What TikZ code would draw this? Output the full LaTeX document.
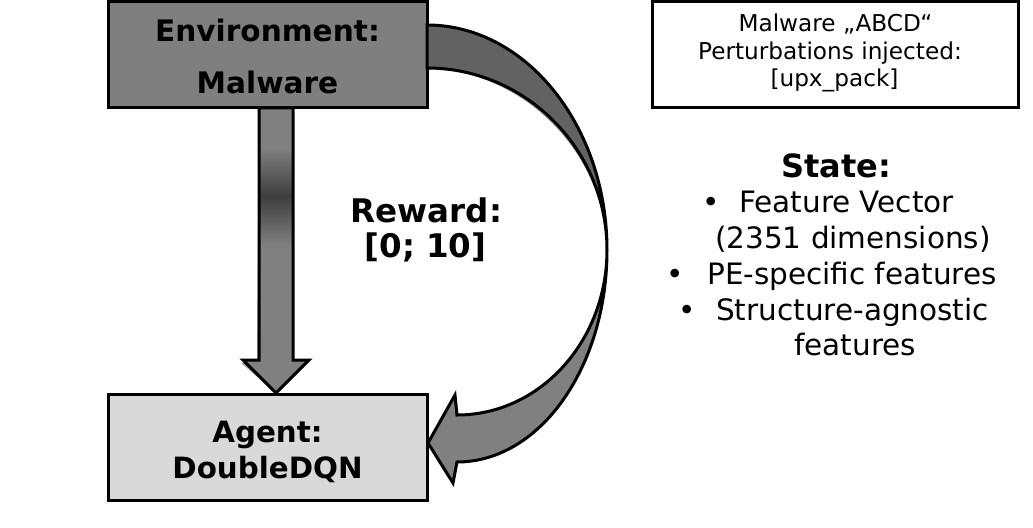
\documentclass[tikz,border=0pt]{standalone}
\usepackage{fontspec}
\setmainfont{DejaVu Sans}
\definecolor{mg}{HTML}{808080}
\definecolor{dg}{HTML}{3E3E3E}
\definecolor{envgray}{HTML}{7F7F7F}
\definecolor{agentgray}{HTML}{D9D9D9}
\definecolor{curvetop}{HTML}{626262}
\definecolor{curvebot}{HTML}{808080}
\definecolor{shadowgray}{HTML}{A0A0A0}
\pgfdeclareverticalshading{downshade}{100bp}{color(0bp)=(mg); color(51bp)=(mg); color(59.5bp)=(dg); color(68bp)=(mg); color(74bp)=(mg); color(100bp)=(mg)}
\begin{document}
\begin{tikzpicture}[x=0.75pt,y=-0.75pt,
  box/.style={draw=black, line width=2.25pt, inner sep=0pt, minimum width=239.25pt, minimum height=79.5pt},
  outl/.style={draw=black, line width=2.25pt, line join=miter},
  bigb/.style={font=\bfseries\fontsize{22.2}{26}\selectfont, inner sep=0pt, anchor=base},
  hugeb/.style={font=\bfseries\fontsize{24.4}{28}\selectfont, inner sep=0pt, anchor=base},
  small/.style={font=\fontsize{17.4}{20}\selectfont, inner sep=0pt, anchor=base},
  item/.style={font=\fontsize{22.1}{26}\selectfont, inner sep=0pt, anchor=base west},
  bul/.style={font=\fontsize{22.1}{26}\selectfont, inner sep=0pt, anchor=base}]
\useasboundingbox (0,0) rectangle (1033,528);

% named coordinates for the arrows
\coordinate (dl) at (259,108);
\coordinate (dr) at (293,108);
\coordinate (dtip) at (276,393);
\coordinate (ca) at (427,25);
\coordinate (cb) at (427,68);
\coordinate (cp) at (607,250);
\coordinate (cc) at (457,415);
\coordinate (cd) at (457,462);
\coordinate (ch1) at (455,395);
\coordinate (ctip) at (428,443);
\coordinate (ch2) at (453,483);

% shadows
\begin{scope}[shift={(-2,3)}]
  \fill[shadowgray] (dl) -- (259,360) -- (243,360) -- (dtip) -- (309,360) -- (293,360) -- (dr) -- cycle;
  \fill[shadowgray] (ca) .. controls (526,25) and (607,126) .. (cp) .. controls (607,150) and (526,68) .. (cb) -- cycle;
  \fill[shadowgray] (cp) .. controls (607,341) and (540,415) .. (cc) -- (ch1) -- (ctip) -- (ch2) -- (cd) .. controls (540,462) and (607,367) .. (cp) -- cycle;
\end{scope}

% boxes
\node[box, fill=envgray] (env) at (267.5,55) {};
\node[box, fill=agentgray] (agent) at (267.5,447) {};
\node[box, fill=white, minimum width=274.5pt] (info) at (835,55) {};

% down arrow: environment -> agent
\path[shading=downshade] (dl) -- (259,360) -- (243,360) -- (dtip) -- (309,360) -- (293,360) -- (dr) -- cycle;
\draw[outl] (dl) -- (259,360) -- (243,360) -- (dtip) -- (309,360) -- (293,360) -- (dr) -- cycle;

% curved reward arrow
\fill[curvetop] (ca) .. controls (526,25) and (607,126) .. (cp) .. controls (607,150) and (526,68) .. (cb) -- cycle;
\fill[curvebot] (cp) .. controls (607,341) and (540,415) .. (cc) -- (ch1) -- (ctip) -- (ch2) -- (cd) .. controls (540,462) and (607,367) .. (cp) -- cycle;
\draw[outl] (ca) .. controls (526,25) and (607,126) .. (cp) .. controls (607,150) and (526,68) .. (cb) -- cycle;
\draw[outl] (cp) .. controls (607,341) and (540,415) .. (cc) -- (ch1) -- (ctip) -- (ch2) -- (cd) .. controls (540,462) and (607,367) .. (cp) -- cycle;

% box texts
\node[bigb] (env1) at (267.5,42) {Environment:};
\node[bigb] (env2) at (267.5,94) {Malware};
\node[bigb, font=\bfseries\fontsize{22}{26}\selectfont] (ag1) at (267.5,442) {Agent:};
\node[bigb, font=\bfseries\fontsize{22}{26}\selectfont] (ag2) at (267.5,478) {DoubleDQN};

% reward
\node[hugeb] (rw1) at (426.5,223) {Reward:};
\node[hugeb] (rw2) at (425.5,257) {[0; 10]};

% info box
\node[small] (tb1) at (835.5,32) {Malware „ABCD“};
\node[small] (tb2) at (830,59.5) {Perturbations injected:};
\node[small] (tb3) at (834.5,87) {[upx\_pack]};

% state
\node[hugeb, font=\bfseries\fontsize{24}{28}\selectfont] (st) at (836,177) {State:};
\node[bul] (b1) at (711,213) {•};
\node[item] (s1) at (739,213) {Feature Vector};
\node[item] (s2) at (715,248) {(2351 dimensions)};
\node[bul] (b2) at (675,284) {•};
\node[item] (s3) at (707,284) {PE-specific features};
\node[bul] (b3) at (687,320) {•};
\node[item] (s4) at (716,320) {Structure-agnostic};
\node[item] (s5) at (794,355) {features};
\end{tikzpicture}
\end{document}
